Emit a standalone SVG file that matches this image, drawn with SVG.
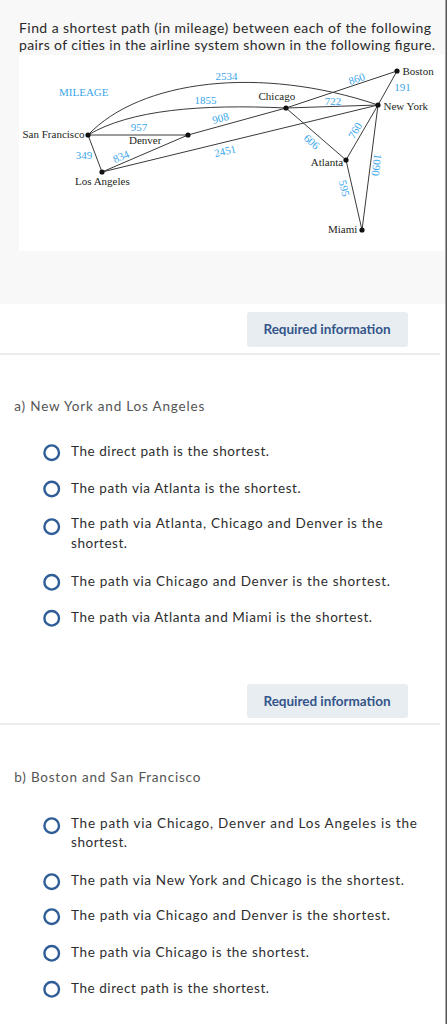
<svg xmlns="http://www.w3.org/2000/svg" width="448" height="1024" viewBox="0 0 448 1024">
<style>
.q{font-family:"Lato","Liberation Sans",sans-serif;font-size:14px;fill:#2b2b2b}
.h{font-family:"Lato","Liberation Sans",sans-serif;font-size:13.5px;fill:#555}
.o{font-family:"Lato","Liberation Sans",sans-serif;font-size:13.5px;fill:#2e2e2e}
.btn{fill:#e8edf2}
.bt{font-family:"Lato","Liberation Sans",sans-serif;font-size:13.5px;font-weight:bold;fill:#34558a;text-anchor:middle}
.city{font-family:"Liberation Serif",serif;font-size:11px;fill:#231f20}
.num{font-family:"Liberation Serif",serif;font-size:11px;fill:#3aa6ea}
.e{fill:none;stroke:#3a3a3a;stroke-width:1}
.dot{fill:#111}
.rad{fill:#fff;stroke:#2f5d98;stroke-width:2.4}
.sep{stroke:#ececec;stroke-width:2}
</style>
<rect x="0" y="0" width="448" height="1024" fill="#fff"/>
<rect x="0" y="0" width="446" height="304" fill="#f8f8f8"/>
<rect x="445.5" y="0" width="1.5" height="1024" fill="#555"/>
<text class="q" x="19" y="33" textLength="412">Find a shortest path (in mileage) between each of the following</text>
<text class="q" x="19" y="50" textLength="416">pairs of cities in the airline system shown in the following figure.</text>
<rect x="19" y="55" width="425" height="196" fill="#fff"/>

<g id="connectors">
<path class="e" d="M88,135 C140,80 260,65 378,105"/>
<path class="e" d="M88,135 C130,110 200,104 286,108"/>
<line class="e" x1="88" y1="135" x2="188" y2="135"/>
<line class="e" x1="88" y1="135" x2="102" y2="172"/>
<line class="e" x1="102" y1="172" x2="188" y2="135"/>
<line class="e" x1="102" y1="172" x2="378" y2="105"/>
<line class="e" x1="188" y1="135" x2="286" y2="108"/>
<line class="e" x1="286" y1="108" x2="378" y2="105"/>
<line class="e" x1="286" y1="108" x2="397" y2="71"/>
<line class="e" x1="397" y1="71" x2="378" y2="105"/>
<line class="e" x1="286" y1="108" x2="346" y2="160"/>
<line class="e" x1="378" y1="105" x2="346" y2="160"/>
<line class="e" x1="378" y1="105" x2="362" y2="230"/>
<line class="e" x1="346" y1="160" x2="362" y2="230"/>
<text class="num" x="226.5" y="80" text-anchor="middle">2534</text>
<text class="num" x="205.5" y="104" text-anchor="middle">1855</text>
<text class="num" x="139" y="131" text-anchor="middle">957</text>
<text class="num" x="84" y="159" text-anchor="middle">349</text>
<text class="num" x="333" y="105" text-anchor="middle">722</text>
<text class="num" x="402.5" y="90.5" text-anchor="middle">191</text>
<text class="num" x="121" y="156.5" dy="0.35em" text-anchor="middle" transform="rotate(-23.3 121 156.5)">834</text>
<text class="num" x="225" y="151" dy="0.35em" text-anchor="middle" transform="rotate(-13.6 225 151)">2451</text>
<text class="num" x="220.5" y="118" dy="0.35em" text-anchor="middle" transform="rotate(-15.4 220.5 118)">908</text>
<text class="num" x="356.7" y="78.7" dy="0.35em" text-anchor="middle" transform="rotate(-18.4 356.7 78.7)">860</text>
<text class="num" x="311.7" y="141.7" dy="0.35em" text-anchor="middle" transform="rotate(41 311.7 141.7)">606</text>
<text class="num" x="355" y="130.5" dy="0.35em" text-anchor="middle" transform="rotate(-60 355 130.5)">760</text>
<text class="num" x="376.7" y="165" dy="0.35em" text-anchor="middle" transform="rotate(97 376.7 165)">1090</text>
<text class="num" x="344.3" y="188.3" dy="0.35em" text-anchor="middle" transform="rotate(77 344.3 188.3)">595</text>
</g>
<text class="num" x="59" y="96">MILEAGE</text>

<g id="boston"><circle class="dot" cx="397" cy="71" r="2.6"/><text class="city" x="402.5" y="74.5">Boston</text></g>
<g id="newyork"><circle class="dot" cx="378" cy="105" r="2.6"/><text class="city" x="383.5" y="110">New York</text></g>
<g id="chicago"><circle class="dot" cx="286" cy="108" r="2.6"/><text class="city" x="258.5" y="100">Chicago</text></g>
<g id="sanfrancisco"><circle class="dot" cx="88" cy="135" r="2.6"/><text class="city" x="22.5" y="137.5">San Francisco</text></g>
<g id="denver"><circle class="dot" cx="188" cy="135" r="2.6"/><text class="city" x="129" y="144">Denver</text></g>
<g id="losangeles"><circle class="dot" cx="102" cy="172" r="2.6"/><text class="city" x="75" y="185">Los Angeles</text></g>
<g id="atlanta"><circle class="dot" cx="346" cy="160" r="2.6"/><text class="city" x="310.7" y="166">Atlanta</text></g>
<g id="miami"><circle class="dot" cx="362" cy="230" r="2.6"/><text class="city" x="328" y="233">Miami</text></g>

<g id="req1"><rect class="btn" x="247" y="312" width="161" height="35" rx="3"/><text class="bt" x="327" y="333.5" textLength="127">Required information</text></g>
<line class="sep" x1="0" y1="354" x2="440" y2="354"/>

<g id="parta">
<text class="h" x="14.3" y="411" textLength="190">a) New York and Los Angeles</text>
<circle class="rad" cx="51.7" cy="452.7" r="7.3"/><text class="o" x="71" y="456" textLength="198">The direct path is the shortest.</text>
<circle class="rad" cx="51.7" cy="489" r="7.3"/><text class="o" x="71" y="492.7" textLength="229.7">The path via Atlanta is the shortest.</text>
<circle class="rad" cx="51.7" cy="526.7" r="7.3"/><text class="o" x="71" y="528.3" textLength="311.7">The path via Atlanta, Chicago and Denver is the</text><text class="o" x="71" y="548.3" textLength="56">shortest.</text>
<circle class="rad" cx="51.7" cy="582.3" r="7.3"/><text class="o" x="71" y="585.5" textLength="319">The path via Chicago and Denver is the shortest.</text>
<circle class="rad" cx="51.7" cy="618.3" r="7.3"/><text class="o" x="71" y="621.7" textLength="301">The path via Atlanta and Miami is the shortest.</text>
</g>

<g id="req2"><rect class="btn" x="247" y="684" width="161" height="34" rx="3"/><text class="bt" x="327" y="705.5" textLength="127">Required information</text></g>
<line class="sep" x1="0" y1="724" x2="440" y2="724"/>

<g id="partb">
<text class="h" x="14.3" y="782" textLength="186">b) Boston and San Francisco</text>
<circle class="rad" cx="51.7" cy="825.7" r="7.3"/><text class="o" x="71" y="828.3" textLength="346">The path via Chicago, Denver and Los Angeles is the</text><text class="o" x="71" y="847.3" textLength="56">shortest.</text>
<circle class="rad" cx="51.7" cy="881.7" r="7.3"/><text class="o" x="71" y="885" textLength="333">The path via New York and Chicago is the shortest.</text>
<circle class="rad" cx="51.7" cy="916.7" r="7.3"/><text class="o" x="71" y="920" textLength="319">The path via Chicago and Denver is the shortest.</text>
<circle class="rad" cx="51.7" cy="953.3" r="7.3"/><text class="o" x="71" y="956.7" textLength="238">The path via Chicago is the shortest.</text>
<circle class="rad" cx="51.7" cy="989.3" r="7.3"/><text class="o" x="71" y="993.3" textLength="198">The direct path is the shortest.</text>
</g>
</svg>
